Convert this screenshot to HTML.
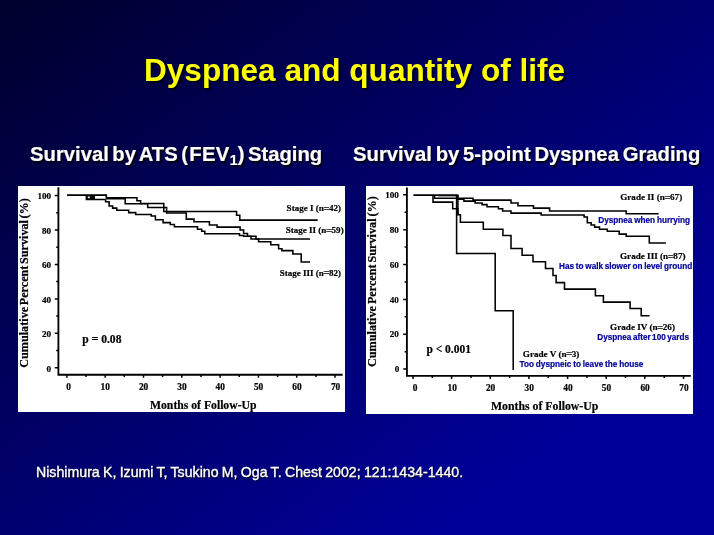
<!DOCTYPE html>
<html><head><meta charset="utf-8">
<style>
html,body{margin:0;padding:0;}
body{width:714px;height:535px;overflow:hidden;position:relative;font-family:"Liberation Sans",sans-serif;
background:linear-gradient(to bottom right,#00002c 0%,#000098 80%,#000098 100%);}
.abs{position:absolute;white-space:nowrap;line-height:1;will-change:transform;}
#title{left:144.4px;top:55.4px;font-size:31.58px;font-weight:bold;color:#ffff00;text-shadow:2px 2px 1px #000018;}
.h{font-size:20.3px;font-weight:bold;color:#fff;-webkit-text-stroke:0.2px #fff;text-shadow:1.7px 1.7px 1px rgba(0,0,0,0.9);word-spacing:-2.2px;}
#h1{left:30px;top:143.8px;}
#h2{left:352.7px;top:143.8px;word-spacing:-1.9px;}
#foot{left:35.6px;top:465.2px;font-size:14.16px;color:#fff;-webkit-text-stroke:0.35px #fff;text-shadow:1px 1px 1px #000;word-spacing:-0.65px;}
.box{position:absolute;background:#fff;}
#b1{left:18px;top:186px;width:327px;height:226.3px;}
#b2{left:366px;top:186px;width:327px;height:227.9px;}
sub{font-size:70%;vertical-align:baseline;position:relative;top:4px;margin:0 0 0 0;}
svg{position:absolute;left:0;top:0;will-change:transform;}
svg text{font-family:"Liberation Serif",serif;font-weight:bold;fill:#000;stroke:#000;stroke-width:0.2px;}
svg .b{font-family:"Liberation Sans",sans-serif;font-weight:bold;fill:#000098;stroke:#000098;stroke-width:0.2px;font-size:8.2px;}
.ax{stroke:#000;stroke-width:1.85;fill:none;}
.tk{stroke:#000;stroke-width:1.5;fill:none;}
.cv{stroke:#000;stroke-width:1.55;fill:none;stroke-linejoin:miter;}
.n{font-size:9.4px;}.ny{font-size:9.1px;}
.l{font-size:9.15px;}
</style></head><body>
<div id="title" class="abs">Dyspnea and quantity of life</div>
<div id="h1" class="abs h">Survival by ATS (<span style="margin-left:1.2px;letter-spacing:0.4px">FEV</span><sub>1</sub>) Staging</div>
<div id="h2" class="abs h">Survival by 5-point Dyspnea Grading</div>
<div id="b1" class="box"></div>
<div id="b2" class="box"></div>
<div id="foot" class="abs">Nishimura K, Izumi T, Tsukino M, Oga T. Chest 2002; 121:1434-1440.</div>
<svg width="714" height="535" viewBox="0 0 714 535">
<!-- LEFT CHART -->
<g id="left">
<path class="ax" d="M58.4,187.2 V374.7 H342.6"/>
<path class="tk" d="M54.8,195.5H58.4 M54.8,229.9H58.4 M54.8,264.4H58.4 M54.8,298.9H58.4 M54.8,333.3H58.4 M54.8,367.8H58.4"/>
<path class="tk" d="M56.2,212.7H58.4 M56.2,247.2H58.4 M56.2,281.6H58.4 M56.2,316.1H58.4 M56.2,350.6H58.4"/>
<path class="tk" d="M66.9,374.5V377.8 M105.2,374.5V377.8 M143.5,374.5V377.8 M181.8,374.5V377.8 M220.1,374.5V377.8 M258.4,374.5V377.8 M296.7,374.5V377.8 M335,374.5V377.8"/>
<path class="tk" d="M86,374.5V376.9 M124.3,374.5V376.9 M162.6,374.5V376.9 M201,374.5V376.9 M239.3,374.5V376.9 M277.6,374.5V376.9 M315.9,374.5V376.9"/>
<g class="n ny" text-anchor="end">
<text x="51.1" y="199.3">100</text><text x="51.1" y="233.8">80</text><text x="51.1" y="268.3">60</text><text x="51.1" y="302.8">40</text><text x="51.1" y="337.2">20</text><text x="51.1" y="371.7">0</text>
</g>
<g class="n" text-anchor="middle">
<text x="68.6" y="390.2">0</text><text x="105.2" y="390.2">10</text><text x="143.6" y="390.2">20</text><text x="182" y="390.2">30</text><text x="220.3" y="390.2">40</text><text x="258.6" y="390.2">50</text><text x="297" y="390.2">60</text><text x="335.6" y="390.2">70</text>
</g>
<text x="150" y="409" font-size="11.7">Months of Follow-Up</text>
<text transform="translate(28.0,367.8) rotate(-90)" font-size="12.2" style="word-spacing:-1.5px">Cumulative Percent Survival (%)</text>
<text x="82.3" y="342.6" font-size="11.6">p = 0.08</text>
<text class="l" x="286.6" y="211" style="font-size:9.05px">Stage I (n<tspan font-size="11px" dx="-0.5" dy="0.5">=</tspan><tspan dx="-0.6" dy="-0.5">42)</tspan></text>
<text class="l" x="285.7" y="233" style="font-size:9.05px">Stage II (n<tspan font-size="11px" dx="-0.5" dy="0.5">=</tspan><tspan dx="-0.6" dy="-0.5">59)</tspan></text>
<text class="l" x="279.8" y="275.9" style="font-size:9.0px">Stage III (n<tspan font-size="11px" dx="-0.5" dy="0.5">=</tspan><tspan dx="-0.6" dy="-0.5">82)</tspan></text>
<!-- curves -->
<path class="cv" d="M67,195.1 H106.3 V197.8 H136.9 V200.7 H140.6 V203.4 H163.8 V211.5 H236.6 V215.2 H239.8 V220.1 H317.7"/>
<path class="cv" d="M86.4,195.1 V199.4 H105.6 V201.8 H109.1 V206 H112.6 V208.1 H116.8 V210.2 H128.7 V212.6 H135.7 V214.4 H151.2 V215.9 H155.4 V219.8 H163.1 V222.6 H170.2 V224.5 H174.4 V226.8 H197.5 V229.2 H201.7 V231.3 H204.8 V233.7 H239.5 V235.5 H243.6 V236.2 H256 V239 H258.6 V241.8 H270.8 V244.8 H278.6 V248.8 H281.9 V250.6 H292.9 V253.9 H301.2 V261.9 H310"/>
<path class="cv" d="M106.3,198.8 H125.2 V203.7 H147.7 V207.5 H166.6 V212.9 H186.3 V219.1 H194 V221.7 H209.4 V225 H217.1 V227.1 H240.1 V229.9 H243.6 V233.4 H247.5 V236.2 H251 V239 H310"/>
<path d="M86.4,195.1H95V199.4H86.4Z" fill="#000"/><rect x="87.8" y="196.5" width="2" height="1.7" fill="#fff"/>
</g>
<!-- RIGHT CHART -->
<g id="right">
<path class="ax" d="M406.9,187.5 V375.8 H690.8"/>
<path class="tk" d="M403.2,194.8H406.8 M403.2,229.7H406.8 M403.2,264.5H406.8 M403.2,299.4H406.8 M403.2,334.2H406.8 M403.2,369.1H406.8"/>
<path class="tk" d="M404.6,212.2H406.8 M404.6,247.1H406.8 M404.6,281.9H406.8 M404.6,316.8H406.8 M404.6,351.7H406.8"/>
<path class="tk" d="M413,375.8V379 M451.6,375.8V379 M490.3,375.8V379 M528.9,375.8V379 M567.6,375.8V379 M606.2,375.8V379 M644.8,375.8V379 M683.5,375.8V379"/>
<path class="tk" d="M432.3,375.8V378 M471,375.8V378 M509.6,375.8V378 M548.2,375.8V378 M586.9,375.8V378 M625.5,375.8V378 M664.2,375.8V378"/>
<g class="n ny" text-anchor="end">
<text x="398.9" y="198.3">100</text><text x="398.9" y="233">80</text><text x="398.9" y="267.8">60</text><text x="398.9" y="302.5">40</text><text x="398.9" y="337.2">20</text><text x="399.4" y="372">0</text>
</g>
<g class="n" text-anchor="middle">
<text x="415" y="391">0</text><text x="452.2" y="391">10</text><text x="490.6" y="391">20</text><text x="529.2" y="391">30</text><text x="567.9" y="391">40</text><text x="606.5" y="391">50</text><text x="645.1" y="391">60</text><text x="684" y="391">70</text>
</g>
<text x="490.9" y="409.9" font-size="11.8">Months of Follow-Up</text>
<text transform="translate(376.0,367.0) rotate(-90)" font-size="12.2" style="word-spacing:-1.1px">Cumulative Percent Survival (%)</text>
<text x="426.4" y="353.3" font-size="11.5">p &lt; 0.001</text>
<text class="l" x="620.2" y="200.4">Grade II (n<tspan font-size="11px" dx="-0.5" dy="0.5">=</tspan><tspan dx="-0.6" dy="-0.5">67)</tspan></text>
<text class="l" x="620" y="259.2">Grade III (n<tspan font-size="11px" dx="-0.5" dy="0.5">=</tspan><tspan dx="-0.6" dy="-0.5">87)</tspan></text>
<text class="l" x="610.1" y="330.1">Grade IV (n<tspan font-size="11px" dx="-0.5" dy="0.5">=</tspan><tspan dx="-0.6" dy="-0.5">26)</tspan></text>
<text class="l" x="522.8" y="356.8">Grade V (n<tspan font-size="11px" dx="-0.5" dy="0.5">=</tspan><tspan dx="-0.6" dy="-0.5">3)</tspan></text>
<text class="b" x="598.3" y="222.9" style="word-spacing:-0.5px">Dyspnea when hurrying</text>
<text class="b" x="559.1" y="268.5" style="word-spacing:-0.55px">Has to walk slower on level ground</text>
<text class="b" x="597.3" y="339.5" style="word-spacing:-0.8px">Dyspnea after 100 yards</text>
<text class="b" x="519.6" y="366.8" style="word-spacing:-0.42px">Too dyspneic to leave the house</text>
<!-- curves -->
<!-- Grade II -->
<path class="cv" d="M413.4,195.1 H457.6 V198.3 H473 V200.1 H511 V203 H518 V205.8 H533.5 V208.1 H549.6 V210.9 H626.2 V213.8 H658.7"/>
<!-- Grade III -->
<path class="cv" d="M434.5,195.1 V198.3 H457 V199.2 H463.9 V201.1 H475.1 V203 H482.1 V204.6 H487 V206.7 H498.4 V208.8 H502.6 V210.9 H511 V213.1 H541.2 V214.9 H584.1 V217 H587.3 V222.8 H591.1 V225 H594.6 V227.1 H599.5 V229.2 H607.3 V231.3 H619.2 V234.1 H626.2 V236.2 H649.3 V242.9 H665.9"/>
<path d="M438,196.3 H456" stroke="#666" stroke-width="0.7" fill="none"/>
<!-- Grade IV -->
<path class="cv" d="M433,195.1 V202.1 H452.7 V208.8 H455.8 H457.8 V214.7 H460.4 V222.2 H483.3 V229.2 H502.9 V235.4 H511 V248.5 H522.1 V255.2 H533 V261.8 H545.5 V268.4 H553 V275.4 H556.1 V282.6 H564.5 V289.1 H595.4 V295.8 H603.4 V302.1 H630.1 V308.4 H641.2 V315.8 H649.6"/>
<!-- Grade V -->
<path class="cv" d="M456.6,195.1 V253.4 H495.2 V310.8 H513.2 V369.9"/>
<path class="cv" d="M457.9,195.1 V214.7"/>
</g>
</svg>
</body></html>
